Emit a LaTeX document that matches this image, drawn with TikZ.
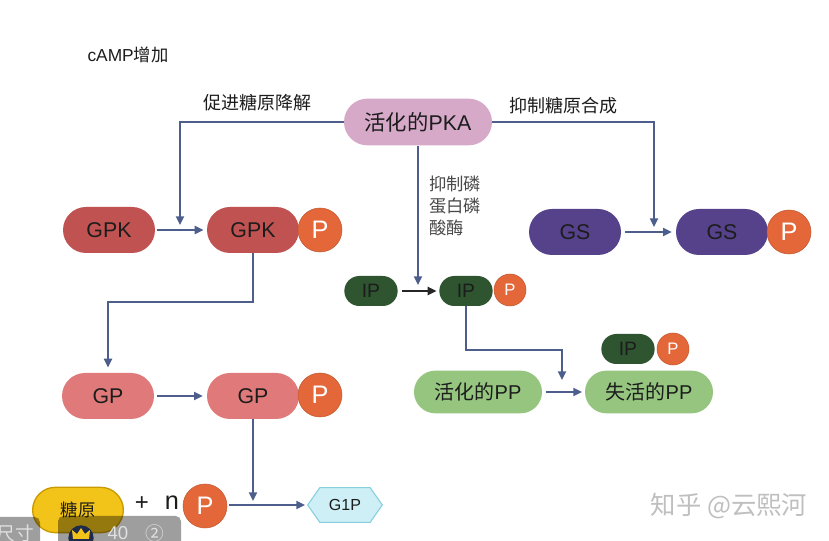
\documentclass[tikz,border=0pt]{standalone}
\usepackage{fontspec}
\setmainfont{Liberation Sans}
\newfontfamily\cjk{Noto Sans CJK SC}
\usetikzlibrary{shapes.misc,shapes.symbols,arrows.meta}
\definecolor{lineblue}{HTML}{4D5D8C}
\definecolor{pkacol}{HTML}{D6A9C8}
\definecolor{gpkcol}{HTML}{C05252}
\definecolor{gpcol}{HTML}{E07A7A}
\definecolor{gscol}{HTML}{56428A}
\definecolor{porange}{HTML}{E4673A}
\definecolor{ipcol}{HTML}{2E5430}
\definecolor{ppcol}{HTML}{95C57F}
\definecolor{g1pfill}{HTML}{CDEFF5}
\definecolor{g1pdraw}{HTML}{86CFDC}
\definecolor{goldfill}{HTML}{F2C419}
\definecolor{golddraw}{HTML}{C99A00}
\definecolor{txt}{HTML}{1C1C1C}
\definecolor{navy}{HTML}{1F2A4A}
\newcommand\fsz[2]{\fontsize{#1}{#2}\selectfont}
\begin{document}
\begin{tikzpicture}[x=0.75pt,y=-0.75pt,
  pill/.style={rounded rectangle, inner sep=0pt, text=txt},
  big/.style={pill, minimum width=69pt, minimum height=34.5pt, font=\fsz{16}{18}},
  ipbox/.style={pill, fill=ipcol, minimum width=40pt, minimum height=22.5pt, font=\fsz{14.5}{16}},
  ppbox/.style={pill, fill=ppcol, minimum width=96pt, minimum height=32pt, font=\fsz{15}{18}},
  pbig/.style={circle, fill=porange, draw=porange!85!black, line width=0.4pt, inner sep=0pt, minimum size=33pt, text=white, font=\fsz{19}{20}},
  psmall/.style={circle, fill=porange, draw=porange!85!black, line width=0.4pt, inner sep=0pt, minimum size=24pt, text=white, font=\fsz{12.5}{14}},
  conn/.style={draw=lineblue, line width=1.3pt, -{Triangle[length=6.5pt,width=6pt]}},
  lbl/.style={text=txt, font=\fsz{13.5}{16}, inner sep=0pt}
]
\clip (0,0) rectangle (829,541);
\fill[white] (0,0) rectangle (829,541);

% texts
\node[lbl, font=\fsz{13}{15}] (camp) at (128,55) {cAMP{\cjk 增加}};
\node[lbl, font=\cjk\fsz{13.5}{16}] (l1) at (257,103) {促进糖原降解};
\node[lbl, font=\cjk\fsz{13.5}{16}] (l2) at (563,106) {抑制糖原合成};
\node[lbl, font=\cjk\fsz{13}{16.5}, align=left, anchor=west, text=txt!80] (l3) at (429,206) {抑制磷\\蛋白磷\\酸酶};

% PKA
\node[pill, fill=pkacol, minimum width=111pt, minimum height=35pt, font=\fsz{16}{19}] (pka) at (418,122) {{\cjk 活化的}PKA};

% GPK row
\node[big, fill=gpkcol] (gpk1) at (109,230) {GPK};
\node[big, fill=gpkcol] (gpk2) at (253,230) {GPK};
\node[pbig] (p1) at (320,230) {P};

% GS row
\node[big, fill=gscol] (gs1) at (575,232) {GS};
\node[big, fill=gscol] (gs2) at (722,232) {GS};
\node[pbig] (p2) at (789,232) {P};

% GP row
\node[big, fill=gpcol] (gp1) at (108,396) {GP};
\node[big, fill=gpcol] (gp2) at (253,396) {GP};
\node[pbig] (p3) at (320,395) {P};

% IP
\node[ipbox] (ip1) at (371,291) {IP};
\node[ipbox] (ip2) at (466,291) {IP};
\node[psmall] (p5) at (510,290) {P};
\node[ipbox] (ip3) at (628,349) {IP};
\node[psmall] (p6) at (673,349) {P};

% PP
\node[ppbox] (pp1) at (478,392) {{\cjk 活化的}PP};
\node[ppbox] (pp2) at (649,392) {{\cjk 失活的}PP};

% bottom row
\node[pill, fill=goldfill, draw=golddraw, line width=1pt, minimum width=68pt, minimum height=34pt, font=\cjk\fsz{13}{15}] (gly) at (78,510) {糖原};
\node[lbl, font=\fsz{18}{20}] (plus) at (142,504) {+};
\node[lbl, font=\fsz{19}{20}] (nn) at (172,503) {n};
\node[pbig] (p4) at (205,506) {P};
\node[signal, signal to=west and east, signal pointer angle=110, fill=g1pfill, draw=g1pdraw, line width=0.8pt, minimum width=56pt, minimum height=26pt, inner sep=0pt, text=txt, font=\fsz{12}{14}] (g1p) at (345,505) {G1P};

% connectors
\coordinate (t1) at (180,225);
\coordinate (t2) at (654,227);
\coordinate (t3) at (418,285);
\coordinate (t4) at (253,501);
\coordinate (t5) at (562,380);
\draw[conn] (pka.west) -| (t1);
\draw[conn] (pka.east) -| (t2);
\draw[conn] (pka.south) -- (t3);
\draw[conn, shorten <=1.5pt, shorten >=2.5pt] (gpk1.east) -- (gpk2.west);
\draw[conn, shorten <=3pt, shorten >=3pt] (gs1.east) -- (gs2.west);
\draw[conn, shorten >=4pt] (gpk2.south) -- ++(0,49) -| (gp1.north);
\draw[conn, shorten <=2pt, shorten >=3pt] (gp1.east) -- (gp2.west);
\draw[conn] (gp2.south) -- (t4);
\draw[conn, shorten <=1.5pt, shorten >=1.5pt] (g1p.west -| p4.east) -- (g1p.west);
\draw[conn, draw=black!85, shorten <=3pt, shorten >=2pt] (ip1.east) -- (ip2.west);
\draw[conn] (ip2.south) -- ++(0,44) -| (t5);
\draw[conn, shorten <=2.5pt, shorten >=2pt] (pp1.east) -- (pp2.west);

% watermark
\node[text=black!25, font=\cjk\fsz{19}{22}, inner sep=0pt] (wm) at (729,506) {知乎 @云熙河};

% screenshot overlay (bottom left)
\fill[black, opacity=0.38, rounded corners=4pt] (-10,517) rectangle (40,560);
\fill[black, opacity=0.38, rounded corners=4pt] (58,516) rectangle (181,560);
\node[text=white!88!black, font=\cjk\fsz{14}{16}, anchor=east, inner sep=0pt] (ov1) at (34,533) {尺寸};
\node[circle, fill=navy, minimum size=19pt, inner sep=0pt] (crown) at (81,538) {};
\fill[goldfill] (73,539) -- (72,530) -- (77,534) -- (81,528) -- (85,534) -- (90,530) -- (89,539) -- cycle;
\node[text=white!88!black, font=\fsz{14}{16}, inner sep=0pt] (ov2) at (118,533) {40};
\node[text=white!88!black, font=\cjk\fsz{14}{16}, inner sep=0pt] (ov3) at (155,533) {②};
\end{tikzpicture}
\end{document}
